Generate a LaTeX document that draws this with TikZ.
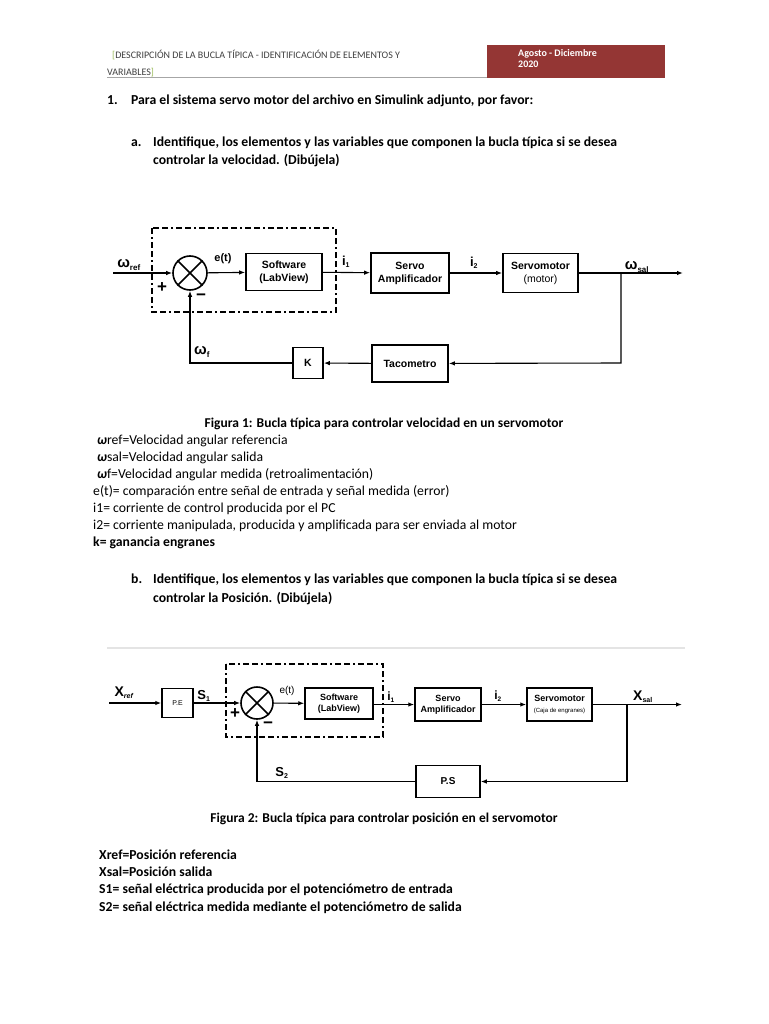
\documentclass[tikz,border=0pt]{standalone}
\usepackage{fontspec}
\setmainfont{Carlito}
\newfontfamily\df{Liberation Sans}
\usetikzlibrary{arrows.meta}
\definecolor{hdrred}{HTML}{943634}
\definecolor{brk}{HTML}{9BBB59}
\definecolor{hdrgray}{HTML}{404040}
\definecolor{sepgray}{HTML}{E4E4E4}
\begin{document}
\begin{tikzpicture}[x=1pt,y=-1pt,
  txt/.style={anchor=base west,inner sep=0pt,font=\fontsize{13.7}{17}\selectfont},
  btxt/.style={txt,font=\fontsize{13.7}{17}\selectfont\bfseries},
  hdr/.style={anchor=base west,inner sep=0pt,text=hdrgray,font=\fontsize{10}{12}\selectfont},
  blk/.style={draw,line width=1.7pt,inner sep=0pt,align=center,font=\df\bfseries\fontsize{10.5}{13}\selectfont},
  blkb/.style={draw,line width=1.5pt,inner sep=0pt,align=center,font=\df\bfseries\fontsize{9}{11}\selectfont},
  sumj/.style={circle,draw,line width=1.6pt,inner sep=0pt},
  conn/.style={line width=1.1pt},
  arr/.style={conn,-{Latex[length=6pt,width=4.5pt]}},
  dbox/.style={line width=2.4pt,dash pattern=on 6pt off 3pt on 2pt off 3pt on 6pt off 3pt},
  lbl/.style={inner sep=0pt,font=\df\bfseries\fontsize{11}{13}\selectfont},
  sgn/.style={inner sep=0pt,font=\df\bfseries\fontsize{17}{17}\selectfont}
]
\useasboundingbox[fill=white] (0,0) rectangle (768,1024);

% ---------- header ----------
\draw[line width=1pt,gray!70] (107,78) -- (487,78);
\node[fill=hdrred,minimum width=178pt,minimum height=33pt,anchor=north west,inner sep=0pt] (redbox) at (487,45) {};
\node[anchor=base west,inner sep=0pt,text=white,font=\fontsize{10}{12}\selectfont\bfseries,align=left] (datetxt) at (518,57) {Agosto - Diciembre};
\node[anchor=base west,inner sep=0pt,text=white,font=\fontsize{10}{12}\selectfont\bfseries] (yeartxt) at (518,68) {2020};
\node[hdr] (h1) at (112,59) {\textcolor{brk}{[}DESCRIPCIÓN DE LA BUCLA TÍPICA - IDENTIFICACIÓN DE ELEMENTOS Y};
\node[hdr] (h2) at (107,76) {VARIABLES\textcolor{brk}{]}};

% ---------- question text ----------
\node[btxt] (q1n) at (107,105) {1.};
\node[btxt] (q1) at (131,105) {Para el sistema servo motor del archivo en Simulink adjunto, por favor:};
\node[btxt] (qan) at (131,147) {a.};
\node[btxt] (qa1) at (153,147) {Identifique, los elementos y las variables que componen la bucla típica si se desea};
\node[btxt] (qa2) at (153,165) {controlar la velocidad. (Dibújela)};

% ---------- diagram 1 ----------
\draw[dbox] (152,228) rectangle (336,312);
\coordinate (in1) at (113,273);
\node[sumj,minimum size=34pt] (s1) at (190,273) {};
\draw[line width=1.6pt] (s1.45) -- (s1.225) (s1.135) -- (s1.315);
\node[blk,minimum width=76pt,minimum height=37pt] (sw1) at (284,272) {Software\\(LabView)};
\node[blk,minimum width=78pt,minimum height=40pt] (sa1) at (410,273) {Servo\\Amplificador};
\node[blk,minimum width=75pt,minimum height=39pt] (sm1) at (540.5,273) {Servomotor\\{\mdseries (motor)}};
\coordinate (br1) at (621,273);
\coordinate (out1) at (683,273);
\node[blk,minimum width=76pt,minimum height=37pt] (tac) at (410,363.5) {Tacometro};
\node[blk,minimum width=30pt,minimum height=31pt] (k1) at (308,363) {K};
\coordinate (fb1r) at (621,363);
\coordinate (fb1l) at (190,363);

\draw[arr] (in1) -- (s1);
\draw[arr] (s1) -- (sw1);
\draw[arr] (sw1) -- (sa1);
\draw[arr] (sa1) -- (sm1);
\draw[arr] (sm1) -- (out1);
\draw[arr] (br1) -- (fb1r) -- (tac);
\draw[arr] (tac) -- (k1);
\draw[arr] (k1) -- (fb1l) -- (s1);

\node[lbl,font=\df\bfseries\fontsize{15}{15}\selectfont] (wref) at (129,265) {ω\textsubscript{\fontsize{8}{8}\selectfont ref}};
\node[sgn] (plus1) at (162,288) {+};
\node[sgn] (minus1) at (201,297) {−};
\node[lbl] (et1) at (223,259) {e(t)};
\node[lbl,font=\df\bfseries\fontsize{13}{13}\selectfont] (i1a) at (346,262) {i\textsubscript{\fontsize{7}{7}\selectfont 1}};
\node[lbl,font=\df\bfseries\fontsize{13}{13}\selectfont] (i2a) at (474,263) {i\textsubscript{\fontsize{7}{7}\selectfont 2}};
\node[lbl,font=\df\bfseries\fontsize{15}{15}\selectfont] (wsal) at (637,267) {ω\textsubscript{\fontsize{8}{8}\selectfont sal}};
\node[lbl,font=\df\bfseries\fontsize{15}{15}\selectfont] (wf) at (202,352) {ω\textsubscript{\fontsize{8}{8}\selectfont f}};

% ---------- caption 1 and list ----------
\node[anchor=base,inner sep=0pt,font=\fontsize{13.5}{17}\selectfont\bfseries] (cap1) at (384,427) {Figura 1: Bucla típica para controlar velocidad en un servomotor};
\node[txt] (l1) at (97,444) {{\bfseries\itshape ω}ref=Velocidad angular referencia};
\node[txt] (l2) at (97,461) {{\bfseries\itshape ω}sal=Velocidad angular salida};
\node[txt] (l3) at (97,478) {{\bfseries\itshape ω}f=Velocidad angular medida (retroalimentación)};
\node[txt] (l4) at (93,495) {e(t)= comparación entre señal de entrada y señal medida (error)};
\node[txt] (l5) at (93,512) {i1= corriente de control producida por el PC};
\node[txt] (l6) at (93,529) {i2= corriente manipulada, producida y amplificada para ser enviada al motor};
\node[btxt] (l7) at (93,546) {k= ganancia engranes};

% ---------- question b ----------
\node[btxt] (qbn) at (131,583) {b.};
\node[btxt] (qb1) at (153,583) {Identifique, los elementos y las variables que componen la bucla típica si se desea};
\node[btxt] (qb2) at (153,602) {controlar la Posición. (Dibújela)};

% ---------- diagram 2 ----------
\draw[line width=2pt,sepgray] (107,648) -- (685,648);
\draw[dbox,line width=2.2pt] (226,664) rectangle (383,737);
\coordinate (in2) at (109,703);
\node[blkb,minimum width=31pt,minimum height=29pt,font=\df\fontsize{7}{8}\selectfont] (pe) at (177.5,703) {P.E};
\node[sumj,minimum size=32pt] (s2) at (257,703) {};
\draw[line width=1.5pt] (s2.45) -- (s2.225) (s2.135) -- (s2.315);
\node[blkb,minimum width=68pt,minimum height=31pt] (sw2) at (339,703.5) {Software\\(LabView)};
\node[blkb,minimum width=66pt,minimum height=33pt] (sa2) at (448,704.5) {Servo\\Amplificador};
\node[blkb,minimum width=65pt,minimum height=33pt] (sm2) at (559.5,704.5) {Servomotor\\{\mdseries\fontsize{6}{8}\selectfont (Caja de engranes)}};
\coordinate (br2) at (627,704.5);
\coordinate (out2) at (682,704.5);
\node[blkb,minimum width=64pt,minimum height=32pt,font=\df\bfseries\fontsize{10}{12}\selectfont] (ps) at (448,781.5) {P.S};
\coordinate (fb2r) at (627,781.5);
\coordinate (fb2l) at (257,781.5);

\draw[arr] (in2) -- (pe);
\draw[arr] (pe) -- (s2);
\draw[arr] (s2) -- (sw2);
\draw[arr] (sw2.east |- sa2.west) -- (sa2);
\draw[arr] (sa2) -- (sm2);
\draw[arr] (sm2) -- (out2);
\draw[arr] (br2) -- (fb2r) -- (ps);
\draw[arr] (ps) -- (fb2l) -- (s2);

\node[lbl,font=\df\bfseries\fontsize{14}{14}\selectfont] (xref) at (124,693) {X\textsubscript{\fontsize{7}{7}\selectfont\itshape ref}};
\node[lbl,font=\df\bfseries\fontsize{13}{13}\selectfont] (s1l) at (204,696) {S\textsubscript{\fontsize{7}{7}\selectfont 1}};
\node[sgn] (plus2) at (235,714) {+};
\node[sgn] (minus2) at (268,725) {−};
\node[lbl,font=\df\fontsize{10}{12}\selectfont] (et2) at (287,691) {e(t)};
\node[lbl,font=\df\bfseries\fontsize{12}{12}\selectfont] (i1b) at (391,697) {i\textsubscript{\fontsize{6.5}{7}\selectfont 1}};
\node[lbl,font=\df\bfseries\fontsize{12}{12}\selectfont] (i2b) at (498,696) {i\textsubscript{\fontsize{6.5}{7}\selectfont 2}};
\node[lbl,font=\df\bfseries\fontsize{14}{14}\selectfont] (xsal) at (643,697) {X\textsubscript{\fontsize{7}{7}\selectfont sal}};
\node[lbl,font=\df\bfseries\fontsize{13}{13}\selectfont] (s2l) at (282,773) {S\textsubscript{\fontsize{7}{7}\selectfont 2}};

% ---------- caption 2 and list ----------
\node[anchor=base,inner sep=0pt,font=\fontsize{13.5}{17}\selectfont\bfseries] (cap2) at (384,822) {Figura 2: Bucla típica para controlar posición en el servomotor};
\node[btxt] (m1) at (99,859) {Xref=Posición referencia};
\node[btxt] (m2) at (99,876) {Xsal=Posición salida};
\node[btxt] (m3) at (99,893) {S1= señal eléctrica producida por el potenciómetro de entrada};
\node[btxt] (m4) at (99,911) {S2= señal eléctrica medida mediante el potenciómetro de salida};
\end{tikzpicture}
\end{document}
